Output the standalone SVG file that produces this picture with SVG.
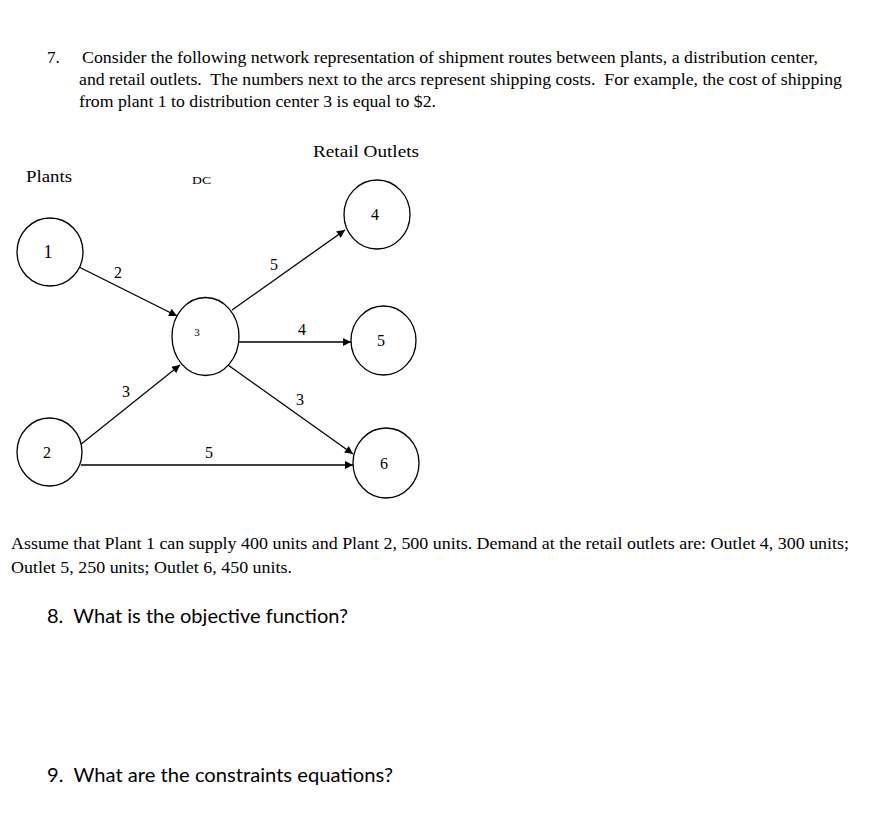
<svg xmlns="http://www.w3.org/2000/svg" width="890" height="820" viewBox="0 0 890 820" xml:space="preserve">
<defs>
<style>
.t{font-family:"Liberation Serif","Times New Roman",serif;font-size:17px;fill:#000;white-space:pre}
.s{font-family:Lato,"Open Sans",sans-serif;font-size:20px;fill:#000;white-space:pre}
.n{fill:#fff;stroke:#000;stroke-width:1.3}
.nl{font-family:"Liberation Serif",serif;fill:#000;text-anchor:middle}
.el{font-family:"Liberation Serif",serif;font-size:16px;fill:#000;text-anchor:middle}
.e{stroke:#000;stroke-width:1.3;fill:none;marker-end:url(#ah)}
</style>
<marker id="ah" viewBox="0 0 10 10" refX="10" refY="5" markerWidth="10" markerHeight="8" markerUnits="userSpaceOnUse" orient="auto">
<path d="M0,0 L10,5 L0,10 z" fill="#000"/>
</marker>
</defs>
<rect width="890" height="820" fill="#fff"/>

<g id="question7">
<text class="t" x="47" y="63">7.</text>
<text class="t" x="82" y="63" textLength="736" lengthAdjust="spacingAndGlyphs">Consider the following network representation of shipment routes between plants, a distribution center,</text>
<text class="t" x="79" y="85" textLength="763" lengthAdjust="spacingAndGlyphs">and retail outlets.  The numbers next to the arcs represent shipping costs.  For example, the cost of shipping</text>
<text class="t" x="79" y="107" textLength="357" lengthAdjust="spacingAndGlyphs">from plant 1 to distribution center 3 is equal to $2.</text>
</g>

<g id="headers">
<text class="t" x="26" y="182" textLength="46" lengthAdjust="spacingAndGlyphs">Plants</text>
<text x="192" y="184" style="font-family:'Liberation Serif',serif;font-size:11px" textLength="19" lengthAdjust="spacingAndGlyphs">DC</text>
<text class="t" x="313" y="157" textLength="106" lengthAdjust="spacingAndGlyphs">Retail Outlets</text>
</g>

<g id="connectors">
<line class="e" x1="79" y1="267" x2="177" y2="316"/>
<text class="el" x="118" y="278">2</text>
<line class="e" x1="80" y1="445" x2="180" y2="365"/>
<text class="el" x="126" y="397">3</text>
<line class="e" x1="232" y1="310" x2="345" y2="230"/>
<text class="el" x="274" y="270">5</text>
<line class="e" x1="239" y1="342" x2="351" y2="342"/>
<text class="el" x="302" y="335">4</text>
<line class="e" x1="228" y1="365" x2="353" y2="454"/>
<text class="el" x="300" y="405">3</text>
<line class="e" x1="81" y1="465" x2="353" y2="465"/>
<text class="el" x="209" y="458">5</text>
</g>

<g id="node1">
<ellipse class="n" cx="50" cy="252" rx="33" ry="34"/>
<text class="nl" x="48" y="258" style="font-size:18px">1</text>
</g>
<g id="node2">
<ellipse class="n" cx="49.5" cy="452" rx="32.5" ry="34"/>
<text class="nl" x="47" y="458" style="font-size:16px">2</text>
</g>
<g id="node3">
<ellipse class="n" cx="205.5" cy="336.5" rx="33.5" ry="39"/>
<text class="nl" x="197" y="336" style="font-size:11px">3</text>
</g>
<g id="node4">
<ellipse class="n" cx="377" cy="214.5" rx="33" ry="34.5"/>
<text class="nl" x="375" y="220" style="font-size:16px">4</text>
</g>
<g id="node5">
<ellipse class="n" cx="383.5" cy="340.5" rx="32.5" ry="34.5"/>
<text class="nl" x="381" y="346" style="font-size:16px">5</text>
</g>
<g id="node6">
<ellipse class="n" cx="386" cy="463" rx="33" ry="35"/>
<text class="nl" x="384" y="469" style="font-size:16px">6</text>
</g>

<g id="assumptions">
<text class="t" x="11" y="549" textLength="838" lengthAdjust="spacingAndGlyphs">Assume that Plant 1 can supply 400 units and Plant 2, 500 units. Demand at the retail outlets are: Outlet 4, 300 units;</text>
<text class="t" x="11" y="573" textLength="281" lengthAdjust="spacingAndGlyphs">Outlet 5, 250 units; Outlet 6, 450 units.</text>
</g>

<g id="questions">
<text class="s" x="47" y="623" textLength="301" lengthAdjust="spacingAndGlyphs">8.  What is the objective function?</text>
<text class="s" x="47" y="782" textLength="346" lengthAdjust="spacingAndGlyphs">9.  What are the constraints equations?</text>
</g>
</svg>
